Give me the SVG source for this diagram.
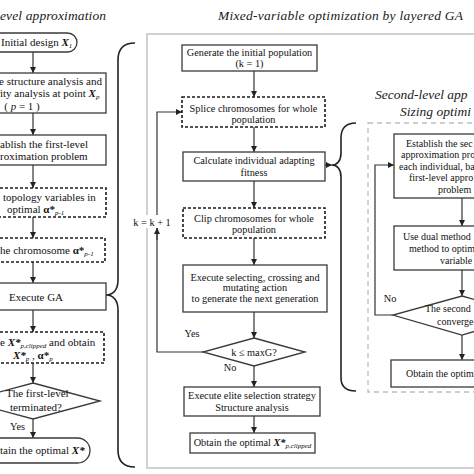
<svg xmlns="http://www.w3.org/2000/svg" width="474" height="474" viewBox="0 0 474 474">
<style>
text{font-family:'Liberation Serif','Times New Roman',Times,serif;font-size:10.3px;fill:#111}
.L text{font-size:11px}
.R text{font-size:10px}
.c{text-anchor:middle}
.e{text-anchor:end}
.t{font-style:italic;font-size:13.5px;fill:#1a1a1a}
.bi{font-weight:bold;font-style:italic}
.it{font-style:italic}
.sub{font-size:7px;font-style:italic}
.box{fill:#fff;stroke:#3a3a3a;stroke-width:1.3}
.dash{fill:#fff;stroke:#1a1a1a;stroke-width:1.6;stroke-dasharray:3 2}
.panel{fill:none;stroke:#c6c6c6;stroke-width:1.6}
.panel2{fill:none;stroke:#bdbdbd;stroke-width:1.3;stroke-dasharray:5 4}
.ln{fill:none;stroke:#333;stroke-width:1.2}
.brace{fill:none;stroke:#222;stroke-width:1.6}
</style>
<defs>
<marker id="ah" markerWidth="6" markerHeight="6" refX="6" refY="3" orient="auto" markerUnits="userSpaceOnUse">
<path d="M0,0 L6,3 L0,6 z" fill="#222"/>
</marker>
</defs>

<g id="titles">
<text class="t" x="0" y="20" textLength="106" lengthAdjust="spacing">evel approximation</text>
<text class="t c" x="340.5" y="20" textLength="245" lengthAdjust="spacing">Mixed-variable optimization by layered GA</text>
<text class="t" x="375" y="99">Second-level app</text>
<text class="t" x="400" y="116">Sizing optimi</text>
</g>

<g id="frames">
<rect class="panel" x="147" y="34" width="400" height="434"/>
<rect class="panel2" x="368" y="123" width="150" height="269"/>
<path class="brace" d="M135,43 C124,43 118,49 118,60 L118,280 C118,290 113,295 106,295 C113,295 118,300 118,310 L118,450 C118,461 124,467 135,467"/>
<path class="brace" d="M356,123 C346,123 341,128 341,138 L341,153 C341,161 337,165 332,165 C337,165 341,169 341,177 L341,378 C341,387 346,391 356,391"/>
</g>

<g id="connectors">
<line class="ln" x1="33" y1="52" x2="33" y2="73" marker-end="url(#ah)"/>
<line class="ln" x1="33" y1="113" x2="33" y2="135" marker-end="url(#ah)"/>
<line class="ln" x1="33" y1="165" x2="33" y2="188" marker-end="url(#ah)"/>
<line class="ln" x1="33" y1="217" x2="33" y2="238" marker-end="url(#ah)"/>
<line class="ln" x1="33" y1="262" x2="33" y2="283" marker-end="url(#ah)"/>
<line class="ln" x1="33" y1="310" x2="33" y2="332" marker-end="url(#ah)"/>
<line class="ln" x1="33" y1="363" x2="33" y2="383" marker-end="url(#ah)"/>
<line class="ln" x1="33" y1="419" x2="33" y2="438" marker-end="url(#ah)"/>

<line class="ln" x1="254" y1="71" x2="254" y2="97" marker-end="url(#ah)"/>
<line class="ln" x1="254" y1="127" x2="254" y2="152" marker-end="url(#ah)"/>
<line class="ln" x1="254" y1="181" x2="254" y2="208" marker-end="url(#ah)"/>
<line class="ln" x1="254" y1="238" x2="254" y2="265" marker-end="url(#ah)"/>
<line class="ln" x1="254" y1="312" x2="254" y2="338" marker-end="url(#ah)"/>
<line class="ln" x1="254" y1="366" x2="254" y2="387" marker-end="url(#ah)"/>
<line class="ln" x1="254" y1="416" x2="254" y2="433" marker-end="url(#ah)"/>
<line class="ln" x1="325" y1="165" x2="332" y2="165" marker-end="url(#ah)"/>
<path class="ln" d="M203,352 H157 V112 H182" marker-end="url(#ah)"/>
<rect x="136" y="215" width="33" height="13" fill="#fff"/>
<line class="ln" x1="157" y1="240" x2="157" y2="228" marker-end="url(#ah)"/>
<text class="c" x="152" y="225.5">k = k + 1</text>
<text class="c" x="192" y="336.5">Yes</text>
<text class="c" x="230" y="370.5">No</text>

<line class="ln" x1="462" y1="198" x2="462" y2="226" marker-end="url(#ah)"/>
<line class="ln" x1="462" y1="270" x2="462" y2="296" marker-end="url(#ah)"/>
<line class="ln" x1="462" y1="335" x2="462" y2="360" marker-end="url(#ah)"/>
<path class="ln" d="M393,315 H375 V165 H394" marker-end="url(#ah)"/>
<text class="c" x="390" y="301.5">No</text>
<text x="10" y="430" font-size="11">Yes</text>
</g>

<g class="L">
<g id="n-initial">
<rect class="box" x="-30" y="33" width="107" height="19" rx="9.5"/>
<text x="1" y="46">Initial design <tspan class="bi">X</tspan><tspan class="sub" dy="2">1</tspan></text>
</g>
<g id="n-analysis">
<rect class="box" x="-40" y="73" width="146" height="40"/>
<text x="-1" y="84.5">e structure analysis and</text>
<text x="0" y="97">ity analysis at point <tspan class="bi">X</tspan><tspan class="sub" dy="2">p</tspan></text>
<text class="c" x="22" y="109.5">( <tspan class="it">p</tspan> = 1 )</text>
</g>
<g id="n-first">
<rect class="box" x="-40" y="135" width="146" height="30"/>
<text x="0" y="147.5">ablish the first-level</text>
<text x="0" y="160">roximation problem</text>
</g>
<g id="n-topology">
<rect class="dash" x="-40" y="188" width="146" height="29"/>
<text x="3" y="200.5">topology variables in</text>
<text x="7" y="213">optimal <tspan font-weight="bold">α*</tspan><tspan class="sub" dy="2">p-1</tspan></text>
</g>
<g id="n-chromosome">
<rect class="dash" x="-40" y="238" width="145" height="24"/>
<text x="0" y="253.5">he chromosome <tspan font-weight="bold">α*</tspan><tspan class="sub" dy="2">p-1</tspan></text>
</g>
<g id="n-execga">
<rect class="box" x="-40" y="283" width="146" height="27"/>
<text class="c" x="36" y="300.5">Execute GA</text>
</g>
<g id="n-save">
<rect class="dash" x="-40" y="332" width="144" height="31"/>
<text x="0" y="346">e <tspan class="bi">X*</tspan><tspan class="sub" dy="2">p,clipped</tspan><tspan dy="-2"> and obtain</tspan></text>
<text x="13" y="358.5"><tspan class="bi">X*</tspan><tspan class="sub" dy="2">p</tspan><tspan dy="-2"> ,  </tspan><tspan font-weight="bold">α*</tspan><tspan class="sub" dy="2">p</tspan></text>
</g>
<g id="n-terminated">
<polygon class="box" points="33,383 100,401 33,419 -34,401" fill="none"/>
<text x="6" y="397">The first-level</text>
<text x="10" y="411">terminated?</text>
</g>
<g id="n-optimal">
<rect class="box" x="-30" y="438" width="120" height="25" rx="12.5"/>
<text x="0" y="454">tain the optimal <tspan class="bi">X*</tspan></text>
</g>
</g>

<g id="n-generate">
<rect class="box" x="182" y="45" width="135" height="26"/>
<text class="c" x="249.5" y="55.5">Generate the initial population</text>
<text class="c" x="249.5" y="66.5">(k = 1)</text>
</g>
<g id="n-splice">
<rect class="dash" x="182" y="97" width="143" height="30"/>
<text class="c" x="253.5" y="111.5">Splice chromosomes for whole</text>
<text class="c" x="253.5" y="122.5">population</text>
</g>
<g id="n-fitness">
<rect class="box" x="183" y="152" width="142" height="29"/>
<text class="c" x="254" y="163.5">Calculate  individual adapting</text>
<text class="c" x="254" y="175.5">fitness</text>
</g>
<g id="n-clip">
<rect class="dash" x="183" y="208" width="142" height="30"/>
<text class="c" x="254" y="221.5">Clip chromosomes for whole</text>
<text class="c" x="254" y="233">population</text>
</g>
<g id="n-select">
<rect class="box" x="183" y="265" width="144" height="47"/>
<text class="c" x="255" y="280.5">Execute selecting, crossing and</text>
<text class="c" x="255" y="291">mutating action</text>
<text class="c" x="255" y="301.5">to generate the next generation</text>
</g>
<g id="n-maxg">
<polygon class="box" points="254,338 305,352 254,366 203,352"/>
<text class="c" x="254" y="355.5">k ≤ maxG?</text>
</g>
<g id="n-elite">
<rect class="box" x="184" y="387" width="136" height="29"/>
<text class="c" x="252" y="398.5">Execute elite selection strategy</text>
<text class="c" x="252" y="411">Structure analysis</text>
</g>
<g id="n-clipped">
<rect class="box" x="190" y="433" width="125" height="20"/>
<text class="c" x="252.5" y="446">Obtain the optimal <tspan class="bi">X*</tspan><tspan class="sub" dy="2">p,clipped</tspan></text>
</g>

<g class="R">
<g id="n-second">
<rect class="box" x="394" y="134" width="130" height="64"/>
<text x="406" y="146.5">Establish the sec</text>
<text x="401" y="158">approximation pro</text>
<text x="399" y="169.5">each individual, ba</text>
<text x="409" y="181">first-level appro</text>
<text x="438" y="192.5">problem</text>
</g>
<g id="n-dual">
<rect class="box" x="394" y="226" width="130" height="44"/>
<text x="403" y="239.5">Use dual method</text>
<text x="409" y="251.5">method to optim</text>
<text x="440" y="263.5">variable</text>
</g>
<g id="n-converged">
<polygon class="box" points="462,296 531,315 462,335 393,315"/>
<text x="425" y="311.5">The second</text>
<text x="437" y="324.5">converge</text>
</g>
<g id="n-sizing">
<rect class="box" x="391" y="360" width="130" height="27"/>
<text x="406" y="377">Obtain the optim</text>
</g>
</g>
</svg>
